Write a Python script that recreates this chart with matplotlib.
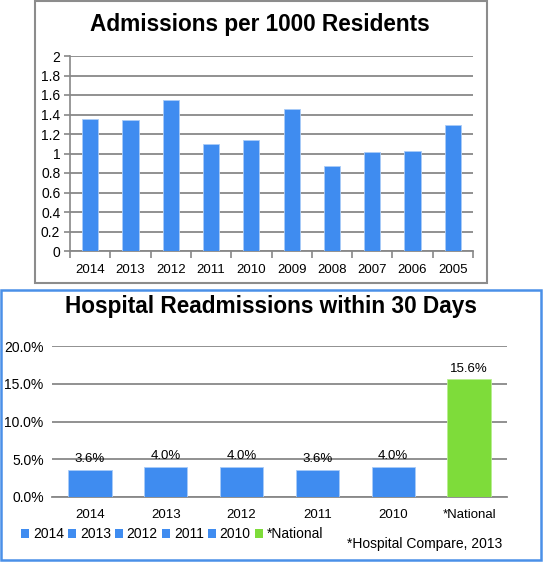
import matplotlib
matplotlib.use("Agg")
import matplotlib.pyplot as plt
from matplotlib.patches import Rectangle, Patch

plt.rcParams['font.family'] = ['Liberation Sans', 'DejaVu Sans']

years_top = ['2014', '2013', '2012', '2011', '2010', '2009', '2008', '2007', '2006', '2005']
admissions = [1.35, 1.34, 1.55, 1.10, 1.14, 1.46, 0.87, 1.02, 1.03, 1.29]
yticks_top = [0, 0.2, 0.4, 0.6, 0.8, 1, 1.2, 1.4, 1.6, 1.8, 2]
ytick_labels_top = ['0', '0.2', '0.4', '0.6', '0.8', '1', '1.2', '1.4', '1.6', '1.8', '2']

cats_bot = ['2014', '2013', '2012', '2011', '2010', '*National']
readmit = [3.6, 4.0, 4.0, 3.6, 4.0, 15.6]
readmit_labels = ['3.6%', '4.0%', '4.0%', '3.6%', '4.0%', '15.6%']
yticks_bot = [0, 5, 10, 15, 20]
ytick_labels_bot = ['0.0%', '5.0%', '10.0%', '15.0%', '20.0%']

BLUE = '#3f8cf0'
GREEN = '#7edc3a'
GRID = '#888888'
W, H = 543, 562

fig = plt.figure(figsize=(W / 100, H / 100), dpi=100)

def fx(px):
    return px / W

def fy(py):
    return 1 - py / H

# frames
fig.patches.append(Rectangle((fx(35), fy(283)), fx(487) - fx(35), fy(1) - fy(283),
                             transform=fig.transFigure, fill=False, edgecolor='#8c8c8c', linewidth=1.5))
fig.patches.append(Rectangle((fx(1), fy(560)), fx(541) - fx(1), fy(290) - fy(560),
                             transform=fig.transFigure, fill=False, edgecolor='#4a90e8', linewidth=1.8))

# ---------- top chart ----------
ax1 = fig.add_axes([fx(70), fy(251), fx(473) - fx(70), fy(56) - fy(251)])
x1 = range(len(years_top))
ax1.bar(x1, admissions, width=0.4, color=BLUE, edgecolor='#a9cbf7', linewidth=0.6, zorder=3)
ax1.set_xlim(-0.5, len(years_top) - 0.5)
ax1.set_ylim(0, 2)
ax1.set_yticks(yticks_top)
ax1.set_yticklabels(ytick_labels_top, fontsize=10)
ax1.set_xticks(list(x1))
ax1.set_xticklabels(years_top, fontsize=9.5)
ax1.tick_params(axis='x', length=0, pad=9)
ax1.tick_params(axis='y', length=4, color=GRID, width=1.2, pad=3)
ax1.set_xticks([i - 0.5 for i in range(len(years_top) + 1)], minor=True)
ax1.tick_params(axis='x', which='minor', length=5, color=GRID, width=1.2, direction='out')
ax1.grid(axis='y', color=GRID, linewidth=1.3, zorder=0)
for s in ['top', 'right']:
    ax1.spines[s].set_visible(False)
ax1.spines['left'].set_color(GRID)
ax1.spines['bottom'].set_color(GRID)
ax1.spines['left'].set_linewidth(1.2)
ax1.spines['bottom'].set_linewidth(1.3)
fig.text(fx(260), fy(25), 'Admissions per 1000 Residents', ha='center', va='center',
         fontsize=16.3, fontweight='bold')

# ---------- bottom chart ----------
ax2 = fig.add_axes([fx(52), fy(497), fx(507) - fx(52), fy(346) - fy(497)])
x2 = range(len(cats_bot))
colors = [BLUE] * (len(cats_bot) - 1) + [GREEN]
edges = ['#a9cbf7'] * (len(cats_bot) - 1) + ['#b8ee90']
bars = ax2.bar(x2, readmit, width=0.57, color=colors, edgecolor=edges, linewidth=0.6, zorder=3)
for b, lab in zip(bars, readmit_labels):
    ax2.text(b.get_x() + b.get_width() / 2, b.get_height() + 0.6, lab,
             ha='center', va='bottom', fontsize=9.5, zorder=4)
ax2.set_xlim(-0.5, len(cats_bot) - 0.5)
ax2.set_ylim(0, 20)
ax2.set_yticks(yticks_bot)
ax2.set_yticklabels(ytick_labels_bot, fontsize=10)
ax2.set_xticks(list(x2))
ax2.set_xticklabels(cats_bot, fontsize=9.5)
ax2.tick_params(axis='both', length=0)
ax2.tick_params(axis='x', pad=9)
ax2.tick_params(axis='y', pad=6)
ax2.grid(axis='y', color=GRID, linewidth=1.3, zorder=0)
for s in ['top', 'right', 'left']:
    ax2.spines[s].set_visible(False)
ax2.spines['bottom'].set_color(GRID)
ax2.spines['bottom'].set_linewidth(1.3)
fig.text(fx(271), fy(307), 'Hospital Readmissions within 30 Days', ha='center', va='center',
         fontsize=16.3, fontweight='bold')

handles = [Patch(facecolor=c, edgecolor='none') for c in colors]
fig.legend(handles, cats_bot, loc='center left', bbox_to_anchor=(fx(21), fy(534)),
           ncol=len(cats_bot), frameon=False, fontsize=10, handlelength=0.6, handleheight=0.6,
           handletextpad=0.25, columnspacing=0.3, borderpad=0, borderaxespad=0)
fig.text(fx(502), fy(544), '*Hospital Compare, 2013', ha='right', va='center', fontsize=10)

fig.savefig('out.png', dpi=100)
